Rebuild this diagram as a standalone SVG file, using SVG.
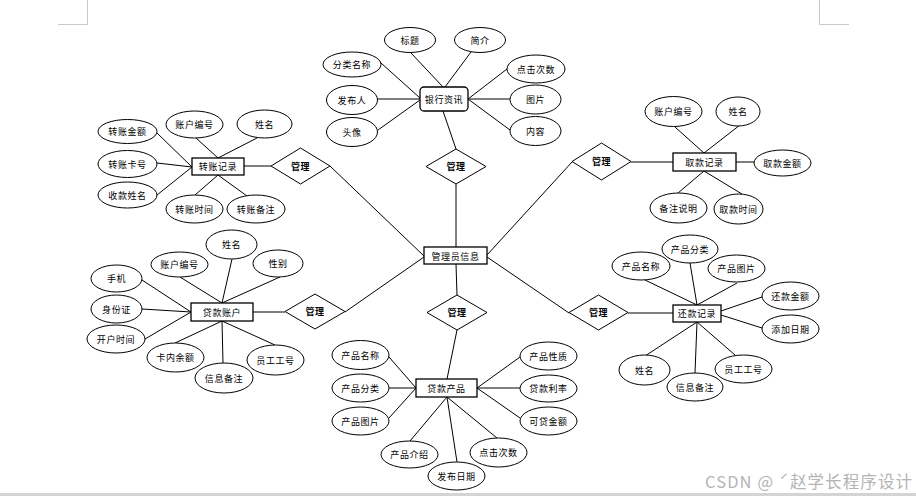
<svg xmlns="http://www.w3.org/2000/svg" width="916" height="496" viewBox="0 0 916 496">
<style>
.e{fill:#fff;stroke:#000;stroke-width:1}
.r{fill:#fff;stroke:#000;stroke-width:1.3}
.d{fill:#fff;stroke:#000;stroke-width:1}
.c line{stroke:#000;stroke-width:1}
text{font-family:"Noto Sans CJK SC","Noto Sans",sans-serif;font-size:9px;fill:#000;text-anchor:middle;dominant-baseline:central;letter-spacing:0.6px}
.b{font-weight:bold}
.pm{stroke:#c8c8c8;stroke-width:1;fill:none}
</style>
<rect width="916" height="496" fill="#fff"/>
<path class="pm" d="M87.5 0V24.5H58M819.5 0V24.5H849"/>
<rect x="0" y="493" width="916" height="3" fill="#d4d4d4"/>
<g class="c" id="connectors">
<!-- 银行资讯 -->
<line x1="411" y1="53" x2="443" y2="87"/>
<line x1="471" y1="52" x2="445" y2="87"/>
<line x1="381" y1="63" x2="420" y2="98"/>
<line x1="378" y1="99" x2="420" y2="99"/>
<line x1="378" y1="130" x2="420" y2="100"/>
<line x1="507" y1="69" x2="468" y2="99"/>
<line x1="510" y1="99" x2="468" y2="99"/>
<line x1="510" y1="130" x2="468" y2="99"/>
<line x1="443" y1="111" x2="456" y2="149"/>
<line x1="456" y1="184" x2="456" y2="247"/>
<!-- 转账记录 -->
<line x1="157" y1="133" x2="192" y2="167"/>
<line x1="157" y1="163" x2="192" y2="167"/>
<line x1="157" y1="195" x2="192" y2="167"/>
<line x1="196" y1="138" x2="218" y2="158"/>
<line x1="257" y1="138" x2="218" y2="158"/>
<line x1="195" y1="195" x2="218" y2="175"/>
<line x1="247" y1="196" x2="218" y2="175"/>
<line x1="244" y1="166" x2="271" y2="166"/>
<line x1="330" y1="166" x2="424" y2="256"/>
<!-- 取款记录 -->
<line x1="675" y1="127" x2="704" y2="153"/>
<line x1="740" y1="125" x2="704" y2="153"/>
<line x1="754" y1="162" x2="736" y2="162"/>
<line x1="678" y1="193" x2="704" y2="171"/>
<line x1="742" y1="194" x2="704" y2="171"/>
<line x1="631" y1="162" x2="673" y2="162"/>
<line x1="572" y1="162" x2="487" y2="255"/>
<!-- 贷款账户 -->
<line x1="180" y1="277" x2="222" y2="303"/>
<line x1="232" y1="259" x2="222" y2="303"/>
<line x1="280" y1="277" x2="222" y2="303"/>
<line x1="142" y1="280" x2="191" y2="312"/>
<line x1="142" y1="309" x2="191" y2="312"/>
<line x1="145" y1="339" x2="191" y2="312"/>
<line x1="175" y1="343" x2="222" y2="321"/>
<line x1="223" y1="363" x2="222" y2="321"/>
<line x1="275" y1="345" x2="222" y2="321"/>
<line x1="253" y1="312" x2="285" y2="312"/>
<line x1="345" y1="312" x2="424" y2="257"/>
<!-- 还款记录 -->
<line x1="645" y1="280" x2="697" y2="305"/>
<line x1="690" y1="263" x2="697" y2="305"/>
<line x1="737" y1="283" x2="697" y2="305"/>
<line x1="762" y1="297" x2="721" y2="311"/>
<line x1="762" y1="328" x2="721" y2="315"/>
<line x1="645" y1="356" x2="697" y2="322"/>
<line x1="695" y1="373" x2="697" y2="322"/>
<line x1="735" y1="355" x2="697" y2="322"/>
<line x1="628" y1="313" x2="673" y2="313"/>
<line x1="569" y1="313" x2="487" y2="257"/>
<!-- 贷款产品 -->
<line x1="456" y1="264" x2="457" y2="295"/>
<line x1="457" y1="330" x2="447" y2="379"/>
<line x1="389" y1="357" x2="416" y2="388"/>
<line x1="389" y1="388" x2="416" y2="388"/>
<line x1="389" y1="418" x2="416" y2="388"/>
<line x1="520" y1="357" x2="477" y2="388"/>
<line x1="520" y1="388" x2="477" y2="388"/>
<line x1="520" y1="418" x2="477" y2="388"/>
<line x1="410" y1="441" x2="447" y2="397"/>
<line x1="457" y1="462" x2="447" y2="397"/>
<line x1="497" y1="438" x2="447" y2="397"/>
</g>
<!-- center -->
<g id="admin"><rect class="r" x="424" y="247" width="63" height="17"/><text x="455.5" y="256">管理员信息</text></g>
<!-- 银行资讯 -->
<g id="news"><rect class="r" x="420" y="87" width="48" height="24" rx="4"/><text x="444" y="99">银行资讯</text></g>
<g id="news-title"><ellipse class="e" cx="410" cy="40" rx="25.5" ry="12.5"/><text x="410" y="40">标题</text></g>
<g id="news-intro"><ellipse class="e" cx="480" cy="40" rx="25.5" ry="12.5"/><text x="480" y="40">简介</text></g>
<g id="news-cat"><ellipse class="e" cx="352" cy="64.5" rx="29" ry="12.5"/><text x="352" y="64.5">分类名称</text></g>
<g id="news-pub"><ellipse class="e" cx="352" cy="100" rx="25.5" ry="14.5"/><text x="352" y="100">发布人</text></g>
<g id="news-avatar"><ellipse class="e" cx="352" cy="132" rx="25.5" ry="14.5"/><text x="352" y="132">头像</text></g>
<g id="news-clicks"><ellipse class="e" cx="536" cy="69" rx="29" ry="14"/><text x="536" y="69">点击次数</text></g>
<g id="news-pic"><ellipse class="e" cx="535.5" cy="99.5" rx="25.5" ry="14.5"/><text x="535.5" y="99.5">图片</text></g>
<g id="news-content"><ellipse class="e" cx="535.5" cy="131" rx="25.5" ry="14.5"/><text x="535.5" y="131">内容</text></g>
<g id="rel1"><polygon class="d" points="456,149 486,166.5 456,184 426,166.5"/><text class="b" x="456" y="166.5">管理</text></g>
<!-- 转账记录 -->
<g id="transfer"><rect class="r" x="192" y="158" width="52" height="17"/><text x="218" y="166.5">转账记录</text></g>
<g id="tr-amount"><ellipse class="e" cx="127.5" cy="131.5" rx="29.5" ry="12"/><text x="127.5" y="131.5">转账金额</text></g>
<g id="tr-card"><ellipse class="e" cx="127.5" cy="164" rx="29.5" ry="13.5"/><text x="127.5" y="164">转账卡号</text></g>
<g id="tr-payee"><ellipse class="e" cx="127.5" cy="195" rx="29.5" ry="13"/><text x="127.5" y="195">收款姓名</text></g>
<g id="tr-acc"><ellipse class="e" cx="194.5" cy="124.5" rx="28.5" ry="13.5"/><text x="194.5" y="124.5">账户编号</text></g>
<g id="tr-name"><ellipse class="e" cx="264.5" cy="124" rx="27.5" ry="14"/><text x="264.5" y="124">姓名</text></g>
<g id="tr-time"><ellipse class="e" cx="194.5" cy="209" rx="28.5" ry="14"/><text x="194.5" y="209">转账时间</text></g>
<g id="tr-note"><ellipse class="e" cx="256" cy="209" rx="29" ry="14"/><text x="256" y="209">转账备注</text></g>
<g id="rel2"><polygon class="d" points="300.5,148 330,166 300.5,184 271,166"/><text class="b" x="300.5" y="166">管理</text></g>
<!-- 取款记录 -->
<g id="withdraw"><rect class="r" x="673" y="153" width="63" height="18"/><text x="704.5" y="162">取款记录</text></g>
<g id="wd-acc"><ellipse class="e" cx="673.5" cy="111.5" rx="28.5" ry="15"/><text x="673.5" y="111.5">账户编号</text></g>
<g id="wd-name"><ellipse class="e" cx="738" cy="111.5" rx="22" ry="14.5"/><text x="738" y="111.5">姓名</text></g>
<g id="wd-amount"><ellipse class="e" cx="782.5" cy="163" rx="28.5" ry="13"/><text x="782.5" y="163">取款金额</text></g>
<g id="wd-note"><ellipse class="e" cx="678.5" cy="208" rx="28.5" ry="15"/><text x="678.5" y="208">备注说明</text></g>
<g id="wd-time"><ellipse class="e" cx="738.5" cy="209" rx="24.5" ry="15"/><text x="738.5" y="209">取款时间</text></g>
<g id="rel3"><polygon class="d" points="601.5,143 631,161.5 601.5,180 572,161.5"/><text class="b" x="601.5" y="161.5">管理</text></g>
<!-- 贷款账户 -->
<g id="loanacc"><rect class="r" x="191" y="303" width="62" height="18"/><text x="222" y="312">贷款账户</text></g>
<g id="la-name"><ellipse class="e" cx="231.5" cy="244.5" rx="25.5" ry="14.5"/><text x="231.5" y="244.5">姓名</text></g>
<g id="la-acc"><ellipse class="e" cx="179.5" cy="264.5" rx="28.5" ry="12.5"/><text x="179.5" y="264.5">账户编号</text></g>
<g id="la-sex"><ellipse class="e" cx="278" cy="263.5" rx="25" ry="13.5"/><text x="278" y="263.5">性别</text></g>
<g id="la-phone"><ellipse class="e" cx="116.5" cy="278.5" rx="25.5" ry="13.5"/><text x="116.5" y="278.5">手机</text></g>
<g id="la-id"><ellipse class="e" cx="116.5" cy="309" rx="25.5" ry="14"/><text x="116.5" y="309">身份证</text></g>
<g id="la-open"><ellipse class="e" cx="116" cy="339" rx="29" ry="14"/><text x="116" y="339">开户时间</text></g>
<g id="la-bal"><ellipse class="e" cx="175.5" cy="357.5" rx="28.5" ry="14.5"/><text x="175.5" y="357.5">卡内余额</text></g>
<g id="la-note"><ellipse class="e" cx="224" cy="378" rx="29" ry="15"/><text x="224" y="378">信息备注</text></g>
<g id="la-emp"><ellipse class="e" cx="275.5" cy="360" rx="28.5" ry="15"/><text x="275.5" y="360">员工工号</text></g>
<g id="rel4"><polygon class="d" points="315,294 345,311.5 315,329 285,311.5"/><text class="b" x="315" y="311.5">管理</text></g>
<!-- 还款记录 -->
<g id="repay"><rect class="r" x="673" y="305" width="48" height="17"/><text x="697" y="313.5">还款记录</text></g>
<g id="rp-cat"><ellipse class="e" cx="690" cy="249" rx="28" ry="14"/><text x="690" y="249">产品分类</text></g>
<g id="rp-name"><ellipse class="e" cx="641" cy="266" rx="29" ry="14"/><text x="641" y="266">产品名称</text></g>
<g id="rp-pic"><ellipse class="e" cx="736.5" cy="268.5" rx="28.5" ry="13.5"/><text x="736.5" y="268.5">产品图片</text></g>
<g id="rp-amount"><ellipse class="e" cx="790.5" cy="296" rx="28.5" ry="14"/><text x="790.5" y="296">还款金额</text></g>
<g id="rp-date"><ellipse class="e" cx="790.5" cy="329" rx="28.5" ry="14"/><text x="790.5" y="329">添加日期</text></g>
<g id="rp-uname"><ellipse class="e" cx="644.5" cy="370" rx="25.5" ry="15"/><text x="644.5" y="370">姓名</text></g>
<g id="rp-note"><ellipse class="e" cx="695" cy="387" rx="28" ry="14"/><text x="695" y="387">信息备注</text></g>
<g id="rp-emp"><ellipse class="e" cx="743.5" cy="369" rx="28.5" ry="14"/><text x="743.5" y="369">员工工号</text></g>
<g id="rel5"><polygon class="d" points="598.5,295 628,312.5 598.5,330 569,312.5"/><text class="b" x="598.5" y="312.5">管理</text></g>
<!-- 贷款产品 -->
<g id="product"><rect class="r" x="416" y="379" width="61" height="18"/><text x="446.5" y="388">贷款产品</text></g>
<g id="pd-name"><ellipse class="e" cx="360.5" cy="355" rx="28.5" ry="14.5"/><text x="360.5" y="355">产品名称</text></g>
<g id="pd-cat"><ellipse class="e" cx="360.5" cy="388" rx="28.5" ry="14"/><text x="360.5" y="388">产品分类</text></g>
<g id="pd-pic"><ellipse class="e" cx="360.5" cy="421" rx="28.5" ry="14"/><text x="360.5" y="421">产品图片</text></g>
<g id="pd-nature"><ellipse class="e" cx="548.5" cy="356" rx="28.5" ry="14"/><text x="548.5" y="356">产品性质</text></g>
<g id="pd-rate"><ellipse class="e" cx="548.5" cy="388.5" rx="28.5" ry="13.5"/><text x="548.5" y="388.5">贷款利率</text></g>
<g id="pd-limit"><ellipse class="e" cx="548.5" cy="421" rx="28.5" ry="14"/><text x="548.5" y="421">可贷金额</text></g>
<g id="pd-intro"><ellipse class="e" cx="409.5" cy="454.5" rx="28.5" ry="13.5"/><text x="409.5" y="454.5">产品介绍</text></g>
<g id="pd-date"><ellipse class="e" cx="456.5" cy="476" rx="28.5" ry="14"/><text x="456.5" y="476">发布日期</text></g>
<g id="pd-clicks"><ellipse class="e" cx="498.5" cy="452.5" rx="28.5" ry="14.5"/><text x="498.5" y="452.5">点击次数</text></g>
<g id="rel6"><polygon class="d" points="457,295 487,312.5 457,330 427,312.5"/><text class="b" x="457" y="312.5">管理</text></g>
<text x="705" y="481" textLength="207" lengthAdjust="spacing" style="font-size:16.5px;fill:#b4b4b4;text-anchor:start;letter-spacing:0;font-family:'Noto Sans CJK SC','Noto Sans',sans-serif">CSDN @ ˊ赵学长程序设计</text>
</svg>
